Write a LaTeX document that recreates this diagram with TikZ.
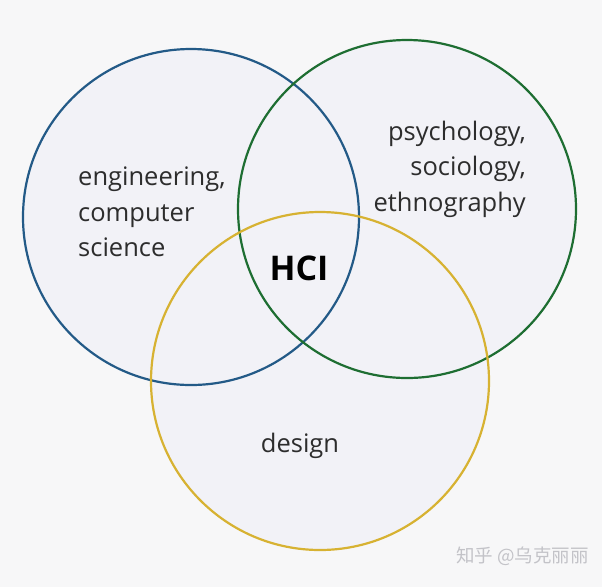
\documentclass[tikz,border=0pt]{standalone}
\usepackage{fontspec}
\setmainfont{Open Sans}
\newfontfamily\cjk{Noto Sans CJK SC}
\definecolor{bg}{RGB}{247,247,248}
\definecolor{inbg}{RGB}{242,242,247}
\definecolor{cblue}{RGB}{35,90,135}
\definecolor{cgreen}{RGB}{30,110,50}
\definecolor{cyellow}{RGB}{215,178,50}
\definecolor{txt}{RGB}{45,45,45}
\definecolor{wm}{RGB}{195,195,200}
\tikzset{
  ring/.style={line width=2.2pt},
  label/.style={text=txt, font=\fontsize{25.5}{35.5}\selectfont, inner sep=0pt},
}
\begin{document}
\begin{tikzpicture}[x=1pt,y=-1pt]
\fill[bg] (0,0) rectangle (602,587);
\useasboundingbox (0,0) rectangle (602,587);
\fill[inbg] (191,217) circle (168);
\fill[inbg] (407,209) circle (169);
\fill[inbg] (320,381) circle (169);
\draw[ring, cblue] (191,217) circle (168);
\draw[ring, cgreen] (407,209) circle (169);
\draw[ring, cyellow] (320,381) circle (169);
\node[label, anchor=west, align=left] (eng) at (78,212) {engineering,\\computer\\science};
\node[label, anchor=east, align=right] (psy) at (526,169) {psychology,\\sociology,\\ethnography};
\node[label, font=\bfseries\fontsize{34}{38}\selectfont, text=black] (hci) at (299,268) {HCI};
\node[label] (des) at (300,446) {design};
\node[inner sep=0pt, text=wm, font=\cjk\fontsize{18.5}{20}\selectfont, anchor=east] (wmk) at (589,556) {知乎 @乌克丽丽};
\end{tikzpicture}
\end{document}
